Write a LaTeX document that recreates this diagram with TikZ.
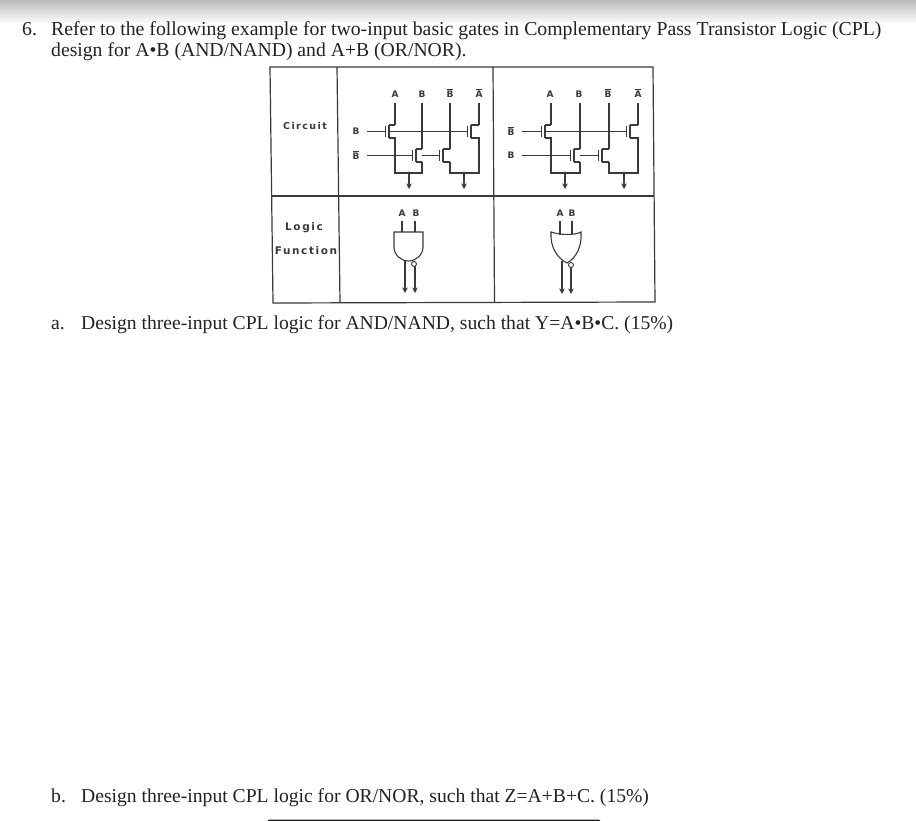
\documentclass[tikz,border=0pt]{standalone}
\usepackage{fontspec}
\setmainfont{Liberation Serif}
\newfontfamily\labfont[LetterSpace=15]{DejaVu Sans Bold}
\newfontfamily\pinfont{DejaVu Sans Bold}
\usetikzlibrary{arrows.meta}
\definecolor{ink}{HTML}{222222}
\definecolor{scan}{HTML}{3A3A3A}
\tikzset{
  body/.style={anchor=base west,inner sep=0pt,text=ink,font=\fontsize{19.62}{22}\selectfont},
  bodytop/.style={body,font=\fontsize{19.76}{22}\selectfont},
  bodysecond/.style={body,font=\fontsize{19.68}{22}\selectfont},
  celltext/.style={inner sep=0pt,text=scan,font=\labfont\fontsize{10.5}{11}\selectfont},
  circuittext/.style={celltext,font=\labfont\fontsize{9.5}{11}\selectfont},
  pin/.style={inner sep=0pt,text=scan,font=\pinfont\fontsize{9}{10}\selectfont},
  frame/.style={draw=scan,line width=1.2pt},
  wire/.style={draw=scan,line width=1.1pt},
  outwire/.style={wire,-{Stealth[length=5.5pt,width=5.5pt]}},
  bubble/.style={circle,draw=scan,fill=white,line width=.9pt,minimum size=5pt,inner sep=0pt},
  junction/.style={circle,fill=scan,minimum size=3.2pt,inner sep=0pt}
}
% transistor: #1 channel bar x, #2 top y, #3 rail x, #4 gate-wire start x
\newcommand{\passfet}[4]{%
  \draw[wire,line width=1.3pt] (#1,#2) -- ++(0,13);
  \draw[wire,line width=1.7pt] (#1-3.5,#2+1) -- ++(0,11);
  \draw[wire] (#1,#2) -- (#3,#2);
  \draw[wire] (#1,#2+13) -- (#3,#2+13);
  \draw[wire] (#4,#2+6.5) -- (#1-3.5,#2+6.5);
}
% one complete CPL circuit
\newcommand{\cplcell}[7]{%
  % #1 A rail, #2 B rail, #3 Bbar rail, #4 Abar rail, #5 wire start, #6 out1, #7 out2
  \draw[wire] (#1,103) -- (#1,125) (#1,137) -- (#1,173) -- (#2,173) -- (#2,162) (#2,149) -- (#2,103);
  \draw[wire] (#4,103) -- (#4,125) (#4,137) -- (#4,173) -- (#3,173) -- (#3,162) (#3,149) -- (#3,103);
  \passfet{#1-6}{125}{#1}{#5}
  \passfet{#4-8}{125}{#4}{#1-6}
  \draw[wire] (#1-6,131.5) -- (#4-11.5,131.5);
  \passfet{#2-6}{149}{#2}{#5}
  \passfet{#3-7}{149}{#3}{#2}
  \node[junction] at (#6,173) {};
  \node[junction] at (#7,173) {};
  \draw[outwire] (#6,173) -- (#6,189);
  \draw[outwire] (#7,173) -- (#7,189);
}
\begin{document}
\begin{tikzpicture}[x=1pt,y=-1pt]
\useasboundingbox (0,0) rectangle (916,821);
\clip (0,0) rectangle (916,821);
\fill[white] (0,0) rectangle (916,821);
\shade[top color=black!27,bottom color=white] (0,0) rectangle (916,24);

% question text
\node[bodytop] (qnum) at (22,35.5) {6.};
\node[bodytop] (qone) at (51,35.5) {Refer to the following example for two-input basic gates in Complementary Pass Transistor Logic (CPL)};
\node[bodysecond] (qtwo) at (51,57) {design for A•B (AND/NAND) and A+B (OR/NOR).};
\node[body] (alab) at (51,329) {a.};
\node[body] (atxt) at (81,329) {Design three-input CPL logic for AND/NAND, such that Y=A•B•C. (15\%)};
\node[body] (blab) at (51,802) {b.};
\node[body] (btxt) at (81,802) {Design three-input CPL logic for OR/NOR, such that Z=A+B+C. (15\%)};

% table
\draw[frame] (270,67) -- (653,67) -- (655,302) -- (273,303) -- cycle;
\draw[frame] (270.8,196) -- (654,196);
\draw[frame] (337,67) -- (340,303);
\draw[frame] (493,67) -- (494.5,302.5);

\node[circuittext] (circuit) at (305,126) {Circuit};
\node[celltext] (logic) at (304,228) {Logic};
\node[celltext] (function) at (306,251) {Function};

% circuit 1
\node[pin] (a1) at (395,94) {A};
\node[pin] (b1) at (422,94) {B};
\node[pin] (nb1) at (450,93) {$\overline{\mbox{B}}$};
\node[pin] (na1) at (479,93) {$\overline{\mbox{A}}$};
\node[pin] (lb1) at (356,131) {B};
\node[pin] (lnb1) at (356,155) {$\overline{\mbox{B}}$};
\cplcell{395}{422}{450}{479}{367}{409}{464}

% circuit 2
\node[pin] (a2) at (550,94) {A};
\node[pin] (b2) at (579,94) {B};
\node[pin] (nb2) at (608,93) {$\overline{\mbox{B}}$};
\node[pin] (na2) at (638,93) {$\overline{\mbox{A}}$};
\node[pin] (lb2) at (511,131) {$\overline{\mbox{B}}$};
\node[pin] (lnb2) at (511,155) {B};
\cplcell{551}{580}{609}{638}{522}{565}{624}

% AND / NAND gate
\node[pin] (ga1) at (402,213) {A};
\node[pin] (gb1) at (416,213) {B};
\draw[wire] (394,232) -- (423,232) -- (423,247)
  .. controls (423,255) and (416,261) .. (408.5,261)
  .. controls (401,261) and (394,255) .. (394,247) -- cycle;
\draw[wire] (402,221) -- (402,232) (415,221) -- (415,232);
\draw[outwire] (405,261) -- (405,293);
\draw[outwire] (415,264) -- (415,293);
\node[bubble] at (414,264) {};

% OR / NOR gate
\node[pin] (ga2) at (560,213) {A};
\node[pin] (gb2) at (572,213) {B};
\draw[wire] (551,232) .. controls (558,234.5) and (574,236) .. (581,232)
  .. controls (582,247) and (576,258) .. (567,263)
  .. controls (557,258) and (550,247) .. (551,232) -- cycle;
\draw[wire] (560,221) -- (560,235) (572,221) -- (572,235);
\draw[outwire] (562,261) -- (562,294);
\draw[outwire] (571,265) -- (571,294);
\node[bubble] at (571,265) {};

% next box, cut off by the page edge
\draw[draw=ink,line width=1.6pt,rounded corners=2pt] (268,824) -- (268,820.3) -- (600,820.3) -- (600,824);
\end{tikzpicture}
\end{document}
